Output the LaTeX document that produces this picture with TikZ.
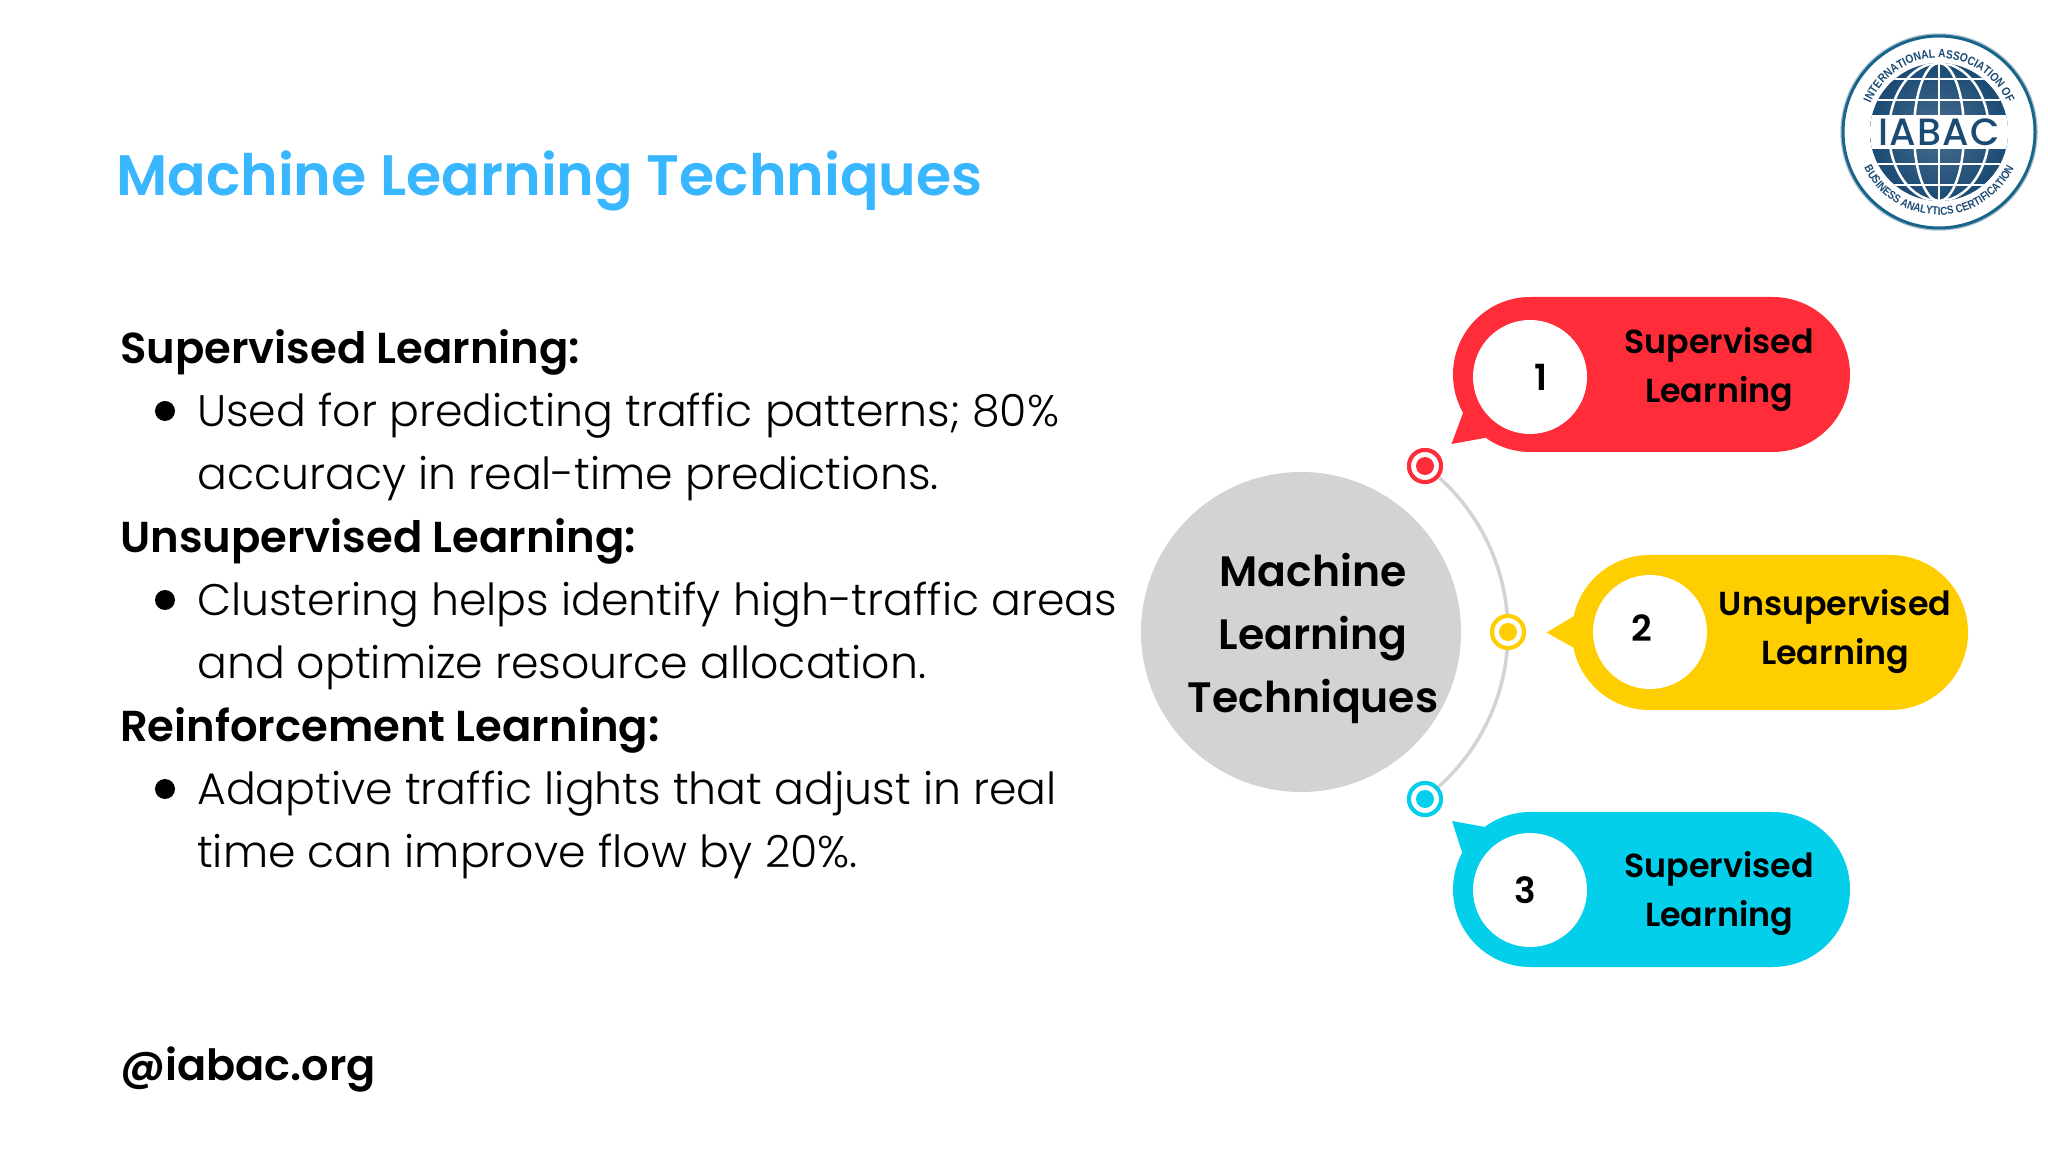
\documentclass[tikz,border=0pt]{standalone}
\usepackage{fontspec}
\setmainfont{Poppins}[UprightFont=* Light,BoldFont=* SemiBold]
\newfontfamily\medfont{Poppins SemiBold}
\newfontfamily\logomark{Poppins Medium}[LetterSpace=3]
\newfontfamily\ringfont{Liberation Sans Bold}[FakeStretch=0.85]
\usetikzlibrary{decorations.text}
\definecolor{cred}{HTML}{FF2D3A}
\definecolor{cyel}{HTML}{FFCE00}
\definecolor{cblu}{HTML}{03CFEB}
\definecolor{cgray}{HTML}{D1D3D4}
\definecolor{ctitle}{HTML}{38B6FF}
\definecolor{clogo}{HTML}{1B4A73}
\tikzset{
  x=1pt,y=1pt,
  pill/.style={rounded corners=77.4pt},
  whitedisc/.style={circle,fill=white,minimum size=114pt,inner sep=0pt},
  numtext/.style={font=\medfont\fontsize{36}{36}\selectfont,inner sep=0pt,anchor=base},
  pilltext/.style={font=\medfont\fontsize{33.3}{49}\selectfont,align=center,inner sep=0pt,text=black},
  maintext/.style={font=\medfont\fontsize{42.5}{63}\selectfont,align=center,inner sep=0pt},
  dotring/.style={circle,draw=#1,line width=4pt,fill=white,minimum size=32pt,inner sep=0pt},
  dotcore/.style={circle,fill=#1,minimum size=18pt,inner sep=0pt},
  arcline/.style={draw=cgray,line width=3.5pt},
  head/.style={font=\bfseries\fontsize{43.3}{43.3}\selectfont,anchor=base west,inner sep=0pt},
  item/.style={font=\fontsize{44.2}{44.2}\selectfont,anchor=base west,inner sep=0pt},
  bull/.style={circle,fill=black,minimum size=20pt,inner sep=0pt},
  ringtext/.style={decoration={text along path,text align=center,text={#1}},decorate}
}
\begin{document}
\begin{tikzpicture}
\useasboundingbox (0,0) rectangle (2048,1152);
\fill[white] (0,0) rectangle (2048,1152);
% title
\node[anchor=base west,inner sep=0pt,text=ctitle,font=\medfont\fontsize{57}{57}\selectfont] (title) at (116,956.5) {Machine Learning Techniques};
% body
\node[head] (h1) at (120,788) {Supervised Learning:};
\node[bull] (b1) at (165,741) {};
\node[item] (l1) at (197,725) {Used for predicting traffic patterns; 80\%};
\node[item] (l2) at (197,662) {accuracy in real-time predictions.};
\node[head] (h2) at (120,599) {Unsupervised Learning:};
\node[bull] (b2) at (165,552) {};
\node[item] (l3) at (197,536) {Clustering helps identify high-traffic areas};
\node[item] (l4) at (197,473) {and optimize resource allocation.};
\node[head] (h3) at (120,410) {Reinforcement Learning:};
\node[bull] (b3) at (165,363) {};
\node[item] (l5) at (197,347) {Adaptive traffic lights that adjust in real};
\node[item] (l6) at (197,284) {time can improve flow by 20\%.};
\node[anchor=base west,inner sep=0pt,font=\bfseries\fontsize{43}{43}\selectfont] (web) at (120,72) {@iabac.org};
% centre
\node[circle,fill=cgray,minimum size=320pt,inner sep=0pt] (main) at (1301,520) {};
\node[maintext] (maintxt) at (1313,514) {Machine\\Learning\\Techniques};
% dots
\node[dotring=cred] (d1) at (1425,686) {};
\node[dotring=cyel] (d2) at (1508,520) {};
\node[dotring=cblu] (d3) at (1425,353) {};
\draw[arcline] (d1) arc[start angle=53.1,end angle=-53.1,radius=207.5];
\node[dotring=cred] at (d1) {};
\node[dotring=cyel] at (d2) {};
\node[dotring=cblu] at (d3) {};
\node[dotcore=cred] (c1) at (d1) {};
\node[dotcore=cyel] (c2) at (d2) {};
\node[dotcore=cblu] (c3) at (d3) {};
% red pill
\fill[cred,pill] (1453,700) rectangle (1850,855);
\fill[cred] (1451.5,708) -- (1463,739) -- (1500,730) -- (1484.5,714) -- cycle;
\node[whitedisc] (n1) at (1530,775) {};
\node[numtext] (t1) at (1541,761) {1};
\node[pilltext] (p1) at (1719,783) {Supervised\\Learning};
% yellow pill
\fill[cyel,pill] (1572,442) rectangle (1968,597);
\fill[cyel] (1546.6,519.5) -- (1574,536) -- (1590,520) -- (1574,504) -- cycle;
\node[whitedisc] (n2) at (1650,520) {};
\node[numtext] (t2) at (1642,510) {2};
\node[pilltext] (p2) at (1835,521) {Unsupervised\\Learning};
% blue pill
\fill[cblu,pill] (1453,185) rectangle (1850,340);
\fill[cblu] (1452,331) -- (1462,300) -- (1500,300) -- (1485,325) -- cycle;
\node[whitedisc] (n3) at (1530,262) {};
\node[numtext] (t3) at (1525,249) {3};
\node[pilltext] (p3) at (1719,259) {Supervised\\Learning};
% logo
\coordinate (lc) at (1939,1020);
\draw[draw=clogo!35,line width=1.5pt] (lc) circle (98);
\draw[draw=clogo!85!cyan,line width=3pt] (lc) circle (96);
\begin{scope}
  \clip (lc) circle (69);
  \shade[inner color=clogo!80!white,outer color=clogo] (1870,951) rectangle (2008,1089);
  \begin{scope}[draw=white,line width=2.5pt]
    \draw (1870,1052) -- (2008,1052);
    \draw (1870,1073) -- (2008,1073);
    \draw (1870,988) -- (2008,988);
    \draw (1870,967) -- (2008,967);
    \draw (1939,950) -- (1939,1090);
    \draw (lc) ellipse (25 and 69);
    \draw (lc) ellipse (50 and 69);
  \end{scope}
  \fill[white] (1870,1003) rectangle (2008,1037);
\end{scope}
\node[inner sep=0pt,text=clogo,font=\logomark\fontsize{38}{38}\selectfont] (iabac) at (lc) {IABAC};
\path[ringtext={|\ringfont\fontsize{12}{12}\selectfont\color{clogo}|INTERNATIONAL ASSOCIATION OF}] (lc) ++(178:74) arc[start angle=178,end angle=2,radius=74];
\path[ringtext={|\ringfont\fontsize{11.5}{11.5}\selectfont\color{clogo}|BUSINESS ANALYTICS CERTIFICATION}] (lc) ++(188:83) arc[start angle=188,end angle=352,radius=83];
\end{tikzpicture}
\end{document}
